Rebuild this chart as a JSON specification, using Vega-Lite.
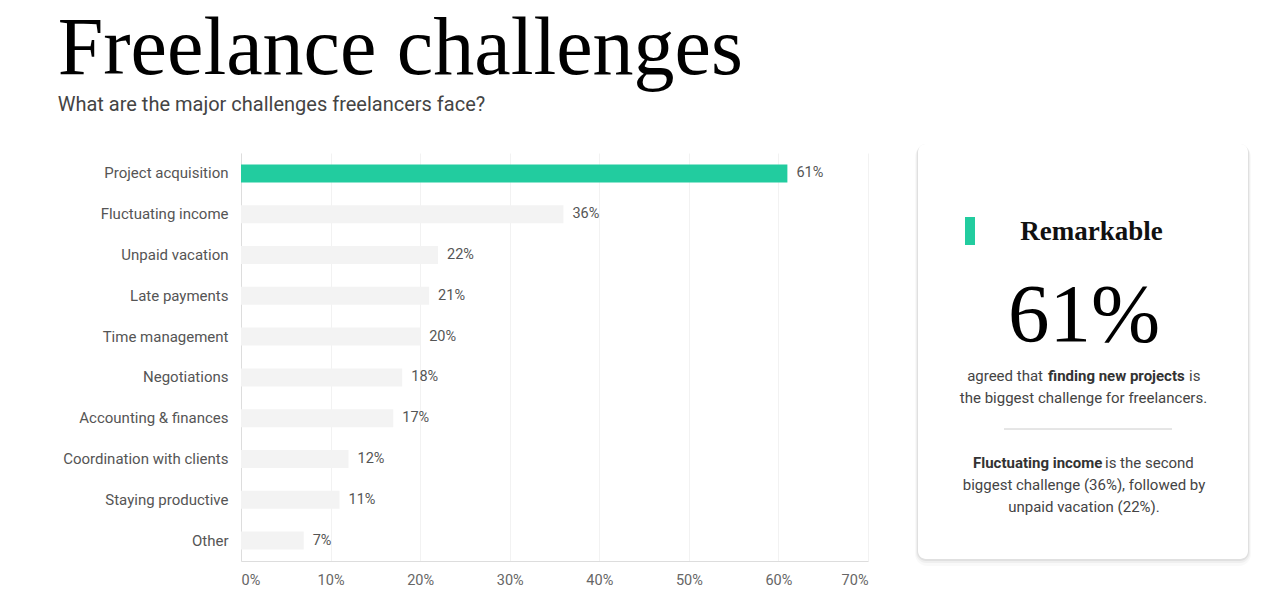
{
  "$schema": "https://vega.github.io/schema/vega-lite/v6.json",
  "background": "white",
  "padding": {"left": 57, "top": 8, "right": 0, "bottom": 0},
  "title": {
    "text": "Freelance challenges",
    "subtitle": "What are the major challenges freelancers face?",
    "anchor": "start",
    "frame": "bounds",
    "dx": -5,
    "font": "Liberation Serif",
    "fontSize": 82,
    "fontWeight": "normal",
    "color": "#000000",
    "subtitleFont": "Roboto",
    "subtitleFontSize": 20,
    "subtitleColor": "#444444",
    "subtitlePadding": 4,
    "offset": 28
  },
  "spacing": 47,
  "hconcat": [
    {
      "width": 627,
      "height": 408,
      "data": {
        "values": [
          {"challenge": "Project acquisition", "pct": 0.61},
          {"challenge": "Fluctuating income", "pct": 0.36},
          {"challenge": "Unpaid vacation", "pct": 0.22},
          {"challenge": "Late payments", "pct": 0.21},
          {"challenge": "Time management", "pct": 0.20},
          {"challenge": "Negotiations", "pct": 0.18},
          {"challenge": "Accounting & finances", "pct": 0.17},
          {"challenge": "Coordination with clients", "pct": 0.12},
          {"challenge": "Staying productive", "pct": 0.11},
          {"challenge": "Other", "pct": 0.07}
        ]
      },
      "encoding": {
        "y": {
          "field": "challenge",
          "type": "nominal",
          "sort": null,
          "title": null,
          "scale": {"paddingInner": 0.56, "paddingOuter": 0.28},
          "axis": {
            "ticks": false,
            "domain": true,
            "domainColor": "#dddddd",
            "labelFont": "Roboto",
            "labelFontSize": 15,
            "labelColor": "#555555",
            "labelPadding": 13,
            "grid": false
          }
        },
        "x": {
          "field": "pct",
          "type": "quantitative",
          "title": null,
          "scale": {"domain": [0, 0.7]},
          "axis": {
            "format": ".0%",
            "values": [0, 0.1, 0.2, 0.3, 0.4, 0.5, 0.6, 0.7],
            "ticks": false,
            "domainColor": "#dddddd",
            "gridColor": "#f2f2f2",
            "labelFont": "Roboto",
            "labelFontSize": 14.5,
            "labelColor": "#666666",
            "labelPadding": 12
          }
        }
      },
      "layer": [
        {
          "mark": {"type": "bar"},
          "encoding": {
            "color": {
              "condition": {"test": "datum.challenge === 'Project acquisition'", "value": "#22cc9f"},
              "value": "#f3f3f3"
            }
          }
        },
        {
          "mark": {"type": "text", "align": "left", "baseline": "middle", "dx": 9, "font": "Roboto", "fontSize": 14.5, "color": "#555555"},
          "encoding": {"text": {"field": "pct", "type": "quantitative", "format": ".0%"}}
        }
      ]
    },
    {
      "width": 330,
      "height": 408,
      "data": {"values": [{}]},
      "layer": [
        {
          "mark": {"type": "rect", "fill": "#000000", "opacity": 0.025, "cornerRadius": 12},
          "encoding": {
            "x": {"datum": -3, "type": "quantitative", "scale": {"domain": [0, 330], "nice": false, "zero": false}, "axis": null},
            "x2": {"datum": 333},
            "y": {"datum": -8, "type": "quantitative", "scale": {"domain": [0, 408], "nice": false, "zero": false, "reverse": true}, "axis": null},
            "y2": {"datum": 413}
          }
        },
        {
          "mark": {"type": "rect", "fill": "#000000", "opacity": 0.04, "cornerRadius": 10},
          "encoding": {
            "x": {"datum": -2, "type": "quantitative", "scale": {"domain": [0, 330], "nice": false, "zero": false}, "axis": null},
            "x2": {"datum": 332},
            "y": {"datum": -8, "type": "quantitative", "scale": {"domain": [0, 408], "nice": false, "zero": false, "reverse": true}, "axis": null},
            "y2": {"datum": 410}
          }
        },
        {
          "mark": {"type": "rect", "fill": "#000000", "opacity": 0.06, "cornerRadius": 9},
          "encoding": {
            "x": {"datum": -1, "type": "quantitative", "scale": {"domain": [0, 330], "nice": false, "zero": false}, "axis": null},
            "x2": {"datum": 331},
            "y": {"datum": -9, "type": "quantitative", "scale": {"domain": [0, 408], "nice": false, "zero": false, "reverse": true}, "axis": null},
            "y2": {"datum": 408}
          }
        },
        {
          "mark": {"type": "rect", "fill": "#ffffff", "cornerRadius": 8},
          "encoding": {
            "x": {"datum": 0, "type": "quantitative", "scale": {"domain": [0, 330], "nice": false, "zero": false}, "axis": null},
            "x2": {"datum": 330},
            "y": {"datum": -9, "type": "quantitative", "scale": {"domain": [0, 408], "nice": false, "zero": false, "reverse": true}, "axis": null},
            "y2": {"datum": 406}
          }
        },
        {
          "mark": {"type": "rect", "fill": "#22cc9f"},
          "encoding": {
            "x": {"datum": 47, "type": "quantitative", "scale": {"domain": [0, 330], "nice": false, "zero": false}, "axis": null},
            "x2": {"datum": 57},
            "y": {"datum": 64, "type": "quantitative", "scale": {"domain": [0, 408], "nice": false, "zero": false, "reverse": true}, "axis": null},
            "y2": {"datum": 92}
          }
        },
        {
          "mark": {"type": "rule", "color": "#cccccc", "strokeWidth": 1},
          "encoding": {
            "x": {"datum": 86, "type": "quantitative", "scale": {"domain": [0, 330], "nice": false, "zero": false}, "axis": null},
            "x2": {"datum": 254},
            "y": {"datum": 276, "type": "quantitative", "scale": {"domain": [0, 408], "nice": false, "zero": false, "reverse": true}, "axis": null}
          }
        },
        {
          "data": {"values": [{"t": "Remarkable"}]},
          "mark": {"type": "text", "align": "center", "baseline": "alphabetic", "font": "Liberation Serif", "fontSize": 27, "fontWeight": "bold", "color": "#111111"},
          "encoding": {
            "x": {"datum": 173.5, "type": "quantitative", "scale": {"domain": [0, 330], "nice": false, "zero": false}, "axis": null},
            "y": {"datum": 87, "type": "quantitative", "scale": {"domain": [0, 408], "nice": false, "zero": false, "reverse": true}, "axis": null},
            "text": {"field": "t"}
          }
        },
        {
          "data": {"values": [{"t": "61%"}]},
          "mark": {"type": "text", "align": "center", "baseline": "alphabetic", "font": "Liberation Serif", "fontSize": 83, "color": "#000000"},
          "encoding": {
            "x": {"datum": 166, "type": "quantitative", "scale": {"domain": [0, 330], "nice": false, "zero": false}, "axis": null},
            "y": {"datum": 188, "type": "quantitative", "scale": {"domain": [0, 408], "nice": false, "zero": false, "reverse": true}, "axis": null},
            "text": {"field": "t"}
          }
        },
        {
          "data": {"values": [{"t": "agreed that"}]},
          "mark": {"type": "text", "align": "right", "baseline": "alphabetic", "font": "Roboto", "fontSize": 15, "color": "#444444"},
          "encoding": {
            "x": {"datum": 125, "type": "quantitative", "scale": {"domain": [0, 330], "nice": false, "zero": false}, "axis": null},
            "y": {"datum": 228, "type": "quantitative", "scale": {"domain": [0, 408], "nice": false, "zero": false, "reverse": true}, "axis": null},
            "text": {"field": "t"}
          }
        },
        {
          "data": {"values": [{"t": "finding new projects"}]},
          "mark": {"type": "text", "align": "left", "baseline": "alphabetic", "font": "Roboto", "fontSize": 15, "fontWeight": "bold", "color": "#333333"},
          "encoding": {
            "x": {"datum": 130, "type": "quantitative", "scale": {"domain": [0, 330], "nice": false, "zero": false}, "axis": null},
            "y": {"datum": 228, "type": "quantitative", "scale": {"domain": [0, 408], "nice": false, "zero": false, "reverse": true}, "axis": null},
            "text": {"field": "t"}
          }
        },
        {
          "data": {"values": [{"t": "is"}]},
          "mark": {"type": "text", "align": "left", "baseline": "alphabetic", "font": "Roboto", "fontSize": 15, "color": "#444444"},
          "encoding": {
            "x": {"datum": 271, "type": "quantitative", "scale": {"domain": [0, 330], "nice": false, "zero": false}, "axis": null},
            "y": {"datum": 228, "type": "quantitative", "scale": {"domain": [0, 408], "nice": false, "zero": false, "reverse": true}, "axis": null},
            "text": {"field": "t"}
          }
        },
        {
          "data": {"values": [{"t": "the biggest challenge for freelancers."}]},
          "mark": {"type": "text", "align": "center", "baseline": "alphabetic", "font": "Roboto", "fontSize": 15, "color": "#444444"},
          "encoding": {
            "x": {"datum": 165.5, "type": "quantitative", "scale": {"domain": [0, 330], "nice": false, "zero": false}, "axis": null},
            "y": {"datum": 250, "type": "quantitative", "scale": {"domain": [0, 408], "nice": false, "zero": false, "reverse": true}, "axis": null},
            "text": {"field": "t"}
          }
        },
        {
          "data": {"values": [{"t": "Fluctuating income"}]},
          "mark": {"type": "text", "align": "left", "baseline": "alphabetic", "font": "Roboto", "fontSize": 15, "fontWeight": "bold", "color": "#333333"},
          "encoding": {
            "x": {"datum": 55, "type": "quantitative", "scale": {"domain": [0, 330], "nice": false, "zero": false}, "axis": null},
            "y": {"datum": 315, "type": "quantitative", "scale": {"domain": [0, 408], "nice": false, "zero": false, "reverse": true}, "axis": null},
            "text": {"field": "t"}
          }
        },
        {
          "data": {"values": [{"t": "is the second"}]},
          "mark": {"type": "text", "align": "left", "baseline": "alphabetic", "font": "Roboto", "fontSize": 15, "color": "#444444"},
          "encoding": {
            "x": {"datum": 187, "type": "quantitative", "scale": {"domain": [0, 330], "nice": false, "zero": false}, "axis": null},
            "y": {"datum": 315, "type": "quantitative", "scale": {"domain": [0, 408], "nice": false, "zero": false, "reverse": true}, "axis": null},
            "text": {"field": "t"}
          }
        },
        {
          "data": {"values": [{"t": "biggest challenge (36%), followed by"}]},
          "mark": {"type": "text", "align": "center", "baseline": "alphabetic", "font": "Roboto", "fontSize": 15, "color": "#444444"},
          "encoding": {
            "x": {"datum": 166, "type": "quantitative", "scale": {"domain": [0, 330], "nice": false, "zero": false}, "axis": null},
            "y": {"datum": 337, "type": "quantitative", "scale": {"domain": [0, 408], "nice": false, "zero": false, "reverse": true}, "axis": null},
            "text": {"field": "t"}
          }
        },
        {
          "data": {"values": [{"t": "unpaid vacation (22%)."}]},
          "mark": {"type": "text", "align": "center", "baseline": "alphabetic", "font": "Roboto", "fontSize": 15, "color": "#444444"},
          "encoding": {
            "x": {"datum": 166, "type": "quantitative", "scale": {"domain": [0, 330], "nice": false, "zero": false}, "axis": null},
            "y": {"datum": 359, "type": "quantitative", "scale": {"domain": [0, 408], "nice": false, "zero": false, "reverse": true}, "axis": null},
            "text": {"field": "t"}
          }
        }
      ]
    }
  ],
  "config": {
    "view": {"stroke": null}
  }
}
